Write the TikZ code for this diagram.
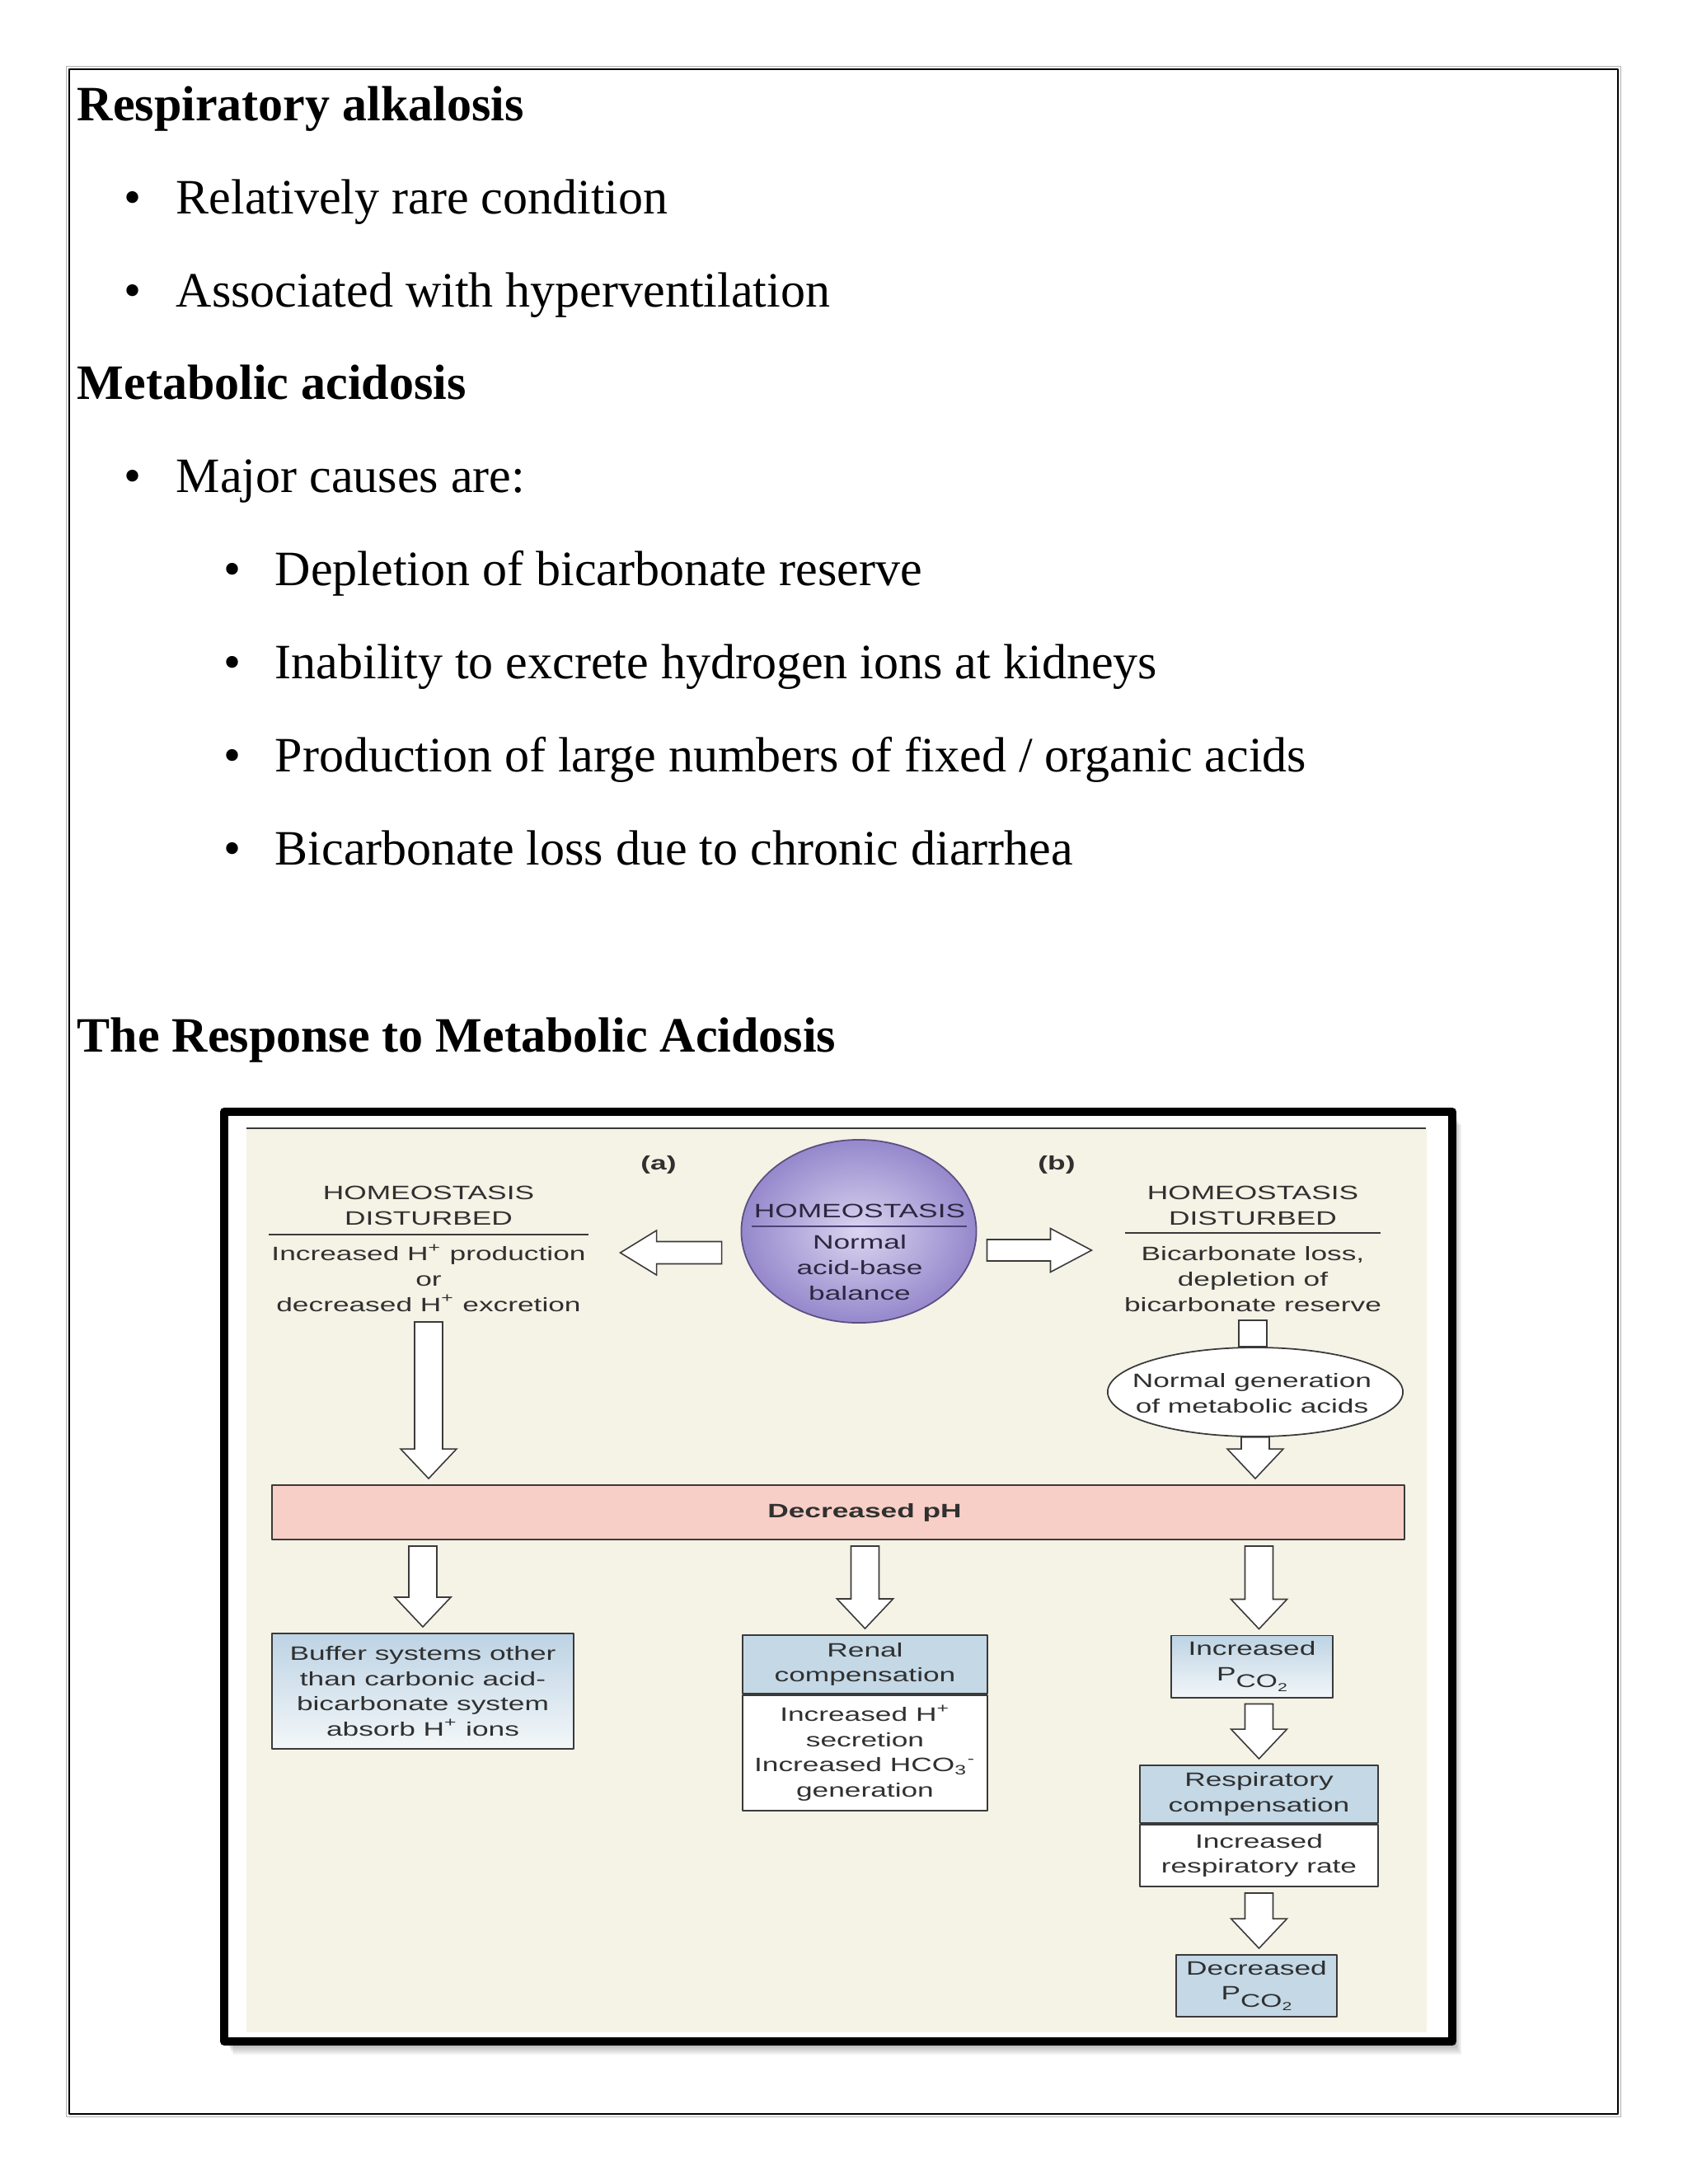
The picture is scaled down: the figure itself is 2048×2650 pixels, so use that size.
\documentclass[tikz,border=0pt]{standalone}
\usepackage{fontspec}
\usepackage{graphicx}
\setmainfont{Liberation Serif}
\newfontfamily\diagfont[FakeStretch=1.5]{Liberation Sans}
\usetikzlibrary{calc,shapes.geometric}

\definecolor{panelbeige}{HTML}{F5F2E6}
\definecolor{barpink}{HTML}{F8CFC6}
\definecolor{hdrblue}{HTML}{C4D8E6}
\definecolor{bluetop}{HTML}{BDD3E4}
\definecolor{bluebot}{HTML}{F3F7F9}
\definecolor{lavin}{HTML}{DCD5F0}
\definecolor{lavout}{HTML}{9588CC}
\definecolor{circborder}{HTML}{5A5080}
\definecolor{circrule}{HTML}{4B4378}
\definecolor{linegray}{HTML}{3A3A3A}
\definecolor{txtgray}{HTML}{303030}
\definecolor{navytxt}{HTML}{2B2840}

\tikzset{
  headline/.style={anchor=base west, inner sep=0pt, font=\fontsize{17.07pt}{20pt}\selectfont\bfseries},
  listitem/.style={anchor=base west, inner sep=0pt, font=\fontsize{17.07pt}{20pt}\selectfont},
  bulletmark/.style={anchor=base, inner sep=0pt, font=\fontsize{17.07pt}{20pt}\selectfont},
  dtext/.style={inner sep=0pt, align=center, text=txtgray, font=\diagfont\fontsize{6.69pt}{8.68pt}\selectfont},
  dbold/.style={dtext, font=\diagfont\fontsize{6.69pt}{8.68pt}\selectfont\bfseries},
  seprule/.style={draw=linegray, line width=0.45pt},
  gradbox/.style={dtext, draw=linegray, line width=0.55pt, top color=bluetop, bottom color=bluebot},
  hdrbox/.style={dtext, draw=linegray, line width=0.55pt, fill=hdrblue},
  whitebox/.style={dtext, draw=linegray, line width=0.55pt, fill=white},
  fatarrow/.style={draw=linegray, fill=white, line width=0.45pt, line join=miter},
}

% P with subscript CO2
\newcommand{\pco}{P\raisebox{-0.35em}{\scalebox{0.95}{CO}\raisebox{-0.2em}{\scalebox{0.6}{2}}}}
% hollow arrow pointing down: [start gap]{x from}{start y from}{tip y from}
\newcommand{\fatdown}[4][7]{%
  \draw[fatarrow] ($(#2|-#3)+(-17,#1)$) -- ($(#2|-#4)+(-17,-43)$) -- ++(-17,0)
    -- ($(#2|-#4)+(0,-7)$) -- ($(#2|-#4)+(34,-43)$) -- ++(-17,0)
    -- ($(#2|-#3)+(17,#1)$) -- cycle;}

\begin{document}
\begin{tikzpicture}[x=0.01cm, y=-0.01cm, line join=round]
\useasboundingbox (0,0) rectangle (2048,2650);
% page border
\draw[gray!60, line width=0.3pt] (80.5,80.5) rectangle (1966.5,2568.5);
\draw[line width=0.6pt] (84,84) rectangle (1963,2565);

% text
\node[headline] (resalk) at (93,146) {Respiratory alkalosis};
\foreach \txt [count=\i] in {Relatively rare condition, Associated with hyperventilation}{
  \node[bulletmark] (ra\i) at (161,{146+113*\i}) {•};
  \node[listitem] (rt\i) at (213,{146+113*\i}) {\txt};
}
\node[headline] (metacid) at (93,484) {Metabolic acidosis};
\node[bulletmark] (ma) at (161,597) {•};
\node[listitem] (major) at (213,597) {Major causes are:};
\foreach \txt [count=\i] in {Depletion of bicarbonate reserve, Inability to excrete hydrogen ions at kidneys, Production of large numbers of fixed / organic acids, Bicarbonate loss due to chronic diarrhea}{
  \node[bulletmark] (sa\i) at (282,{597+113*\i}) {•};
  \node[listitem] (st\i) at (333,{597+113*\i}) {\txt};
}
\node[headline] (response) at (93,1276) {The Response to Metabolic Acidosis};

% framed figure
\foreach \s in {2,4,...,16}
  \fill[black, opacity=0.05] (272+0.7*\s,1349+\s) rectangle (1762+0.7*\s,2477+\s);
\draw[line width=2.85pt, fill=white] (272,1349) rectangle (1762,2477);
\fill[panelbeige] (299,1369) rectangle (1731,2466);
\draw[linegray, line width=0.6pt] (299,1369) -- (1730,1369);

\node[dbold, anchor=base] (taga) at (799,1419) {(a)};
\node[dbold, anchor=base] (tagb) at (1282,1419) {(b)};

% centre: homeostasis
\node[ellipse, minimum width=2.85cm, minimum height=2.22cm, inner sep=0pt, draw=circborder,
  line width=0.5pt, inner color=lavin, outer color=lavout] (home) at (1042,1494) {};
\node[dtext, text=navytxt, anchor=base] (homet) at (1043,1477) {HOMEOSTASIS};
\draw[circrule, line width=0.6pt] (912,1488) -- (1173,1488);
\node[dtext, text=navytxt, anchor=base] (homeb) at (1043,1577) {Normal\\acid-base\\balance};

% (a) side
\node[dtext, anchor=base] (ldist) at (520,1486) {HOMEOSTASIS\\DISTURBED};
\draw[seprule] (326,1498) -- (714,1498);
\node[dtext, anchor=base] (ltxt) at (520,1591) {Increased H\textsuperscript{+} production\\or\\decreased H\textsuperscript{+} excretion};

% (b) side
\node[dtext, anchor=base] (rdist) at (1520,1486) {HOMEOSTASIS\\DISTURBED};
\draw[seprule] (1365,1496) -- (1675,1496);
\node[dtext, anchor=base] (rtxt) at (1520,1591) {Bicarbonate loss,\\depletion of\\bicarbonate reserve};
\node[ellipse, minimum width=3.58cm, minimum height=1.08cm, inner sep=0pt, draw=linegray,
  line width=0.5pt, fill=white] (gen) at (1523,1689) {};
\node[dtext, anchor=base] (gent) at (1519,1714) {Normal generation\\of metabolic acids};

% decreased pH
\node[dbold, draw=linegray, line width=0.55pt, fill=barpink, minimum width=13.74cm,
  minimum height=0.66cm] (ph) at (1017,1835) {\hspace*{0.64cm}Decreased pH};

% responses
\node[gradbox, minimum width=3.66cm, minimum height=1.40cm] (buf) at (513,2052)
  {Buffer systems other\\than carbonic acid-\\bicarbonate system\\absorb H\textsuperscript{+} ions};
\node[hdrbox, minimum width=2.97cm, minimum height=0.71cm] (renalh) at (1049.5,2019.5) {Renal\\compensation};
\node[whitebox, minimum width=2.97cm, minimum height=1.40cm, anchor=north] (renall) at (renalh.south)
  {Increased H\textsuperscript{+}\\secretion\\Increased HCO\textsubscript{3}\textsuperscript{-}\\generation};
\node[gradbox, minimum width=1.95cm, minimum height=0.75cm] (pco2up) at (1519,2022) {Increased\\\pco};
\node[hdrbox, minimum width=2.89cm, minimum height=0.70cm] (resph) at (1527.5,2177) {Respiratory\\compensation};
\node[whitebox, minimum width=2.89cm, minimum height=0.75cm, anchor=north] (respl) at (resph.south)
  {Increased\\respiratory rate};
\node[hdrbox, minimum width=1.95cm, minimum height=0.75cm] (pco2dn) at (1524.5,2409.5) {Decreased\\\pco};

% arrows
\draw[fatarrow] ($(home.west)+(-23,12.5)$) -- ++(-79,0) -- ++(0,-13.5) -- ++(-44,27)
  -- ++(44,27) -- ++(0,-13.5) -- ++(79,0) -- cycle;
\draw[fatarrow] ($(home.east)+(12,10)$) -- ++(77,0) -- ++(0,-13.5) -- ++(50,26.5)
  -- ++(-50,26.5) -- ++(0,-13.5) -- ++(-77,0) -- cycle;
\draw[fatarrow] ($(rtxt.south)+(-17,10)$) rectangle ($(rtxt.south|-gen.north)+(17,0)$);
\fatdown[12]{ltxt.south}{ltxt.south}{ph.north}
\fatdown[0]{gen.south}{gen.south}{ph.north}
\fatdown{buf.north}{ph.south}{buf.north}
\fatdown{renalh.north}{ph.south}{renalh.north}
\fatdown{resph.north}{ph.south}{pco2up.north}
\fatdown{resph.north}{pco2up.south}{resph.north}
\fatdown{resph.north}{respl.south}{pco2dn.north}
\end{tikzpicture}
\end{document}
